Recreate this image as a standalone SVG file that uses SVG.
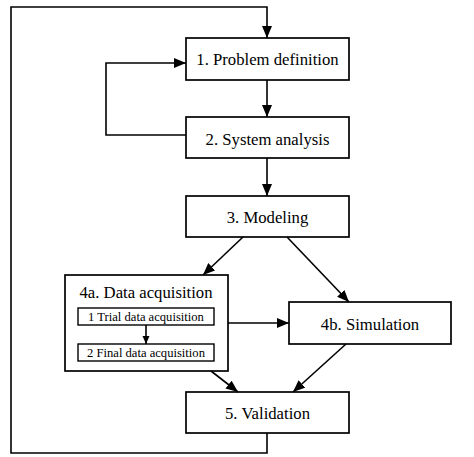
<svg xmlns="http://www.w3.org/2000/svg" width="474" height="457" viewBox="0 0 474 457">
<style>
.box{fill:#fff;stroke:#000;stroke-width:1.7}
.ibox{fill:#fff;stroke:#000;stroke-width:1.4}
text{font-family:"Liberation Serif","Times New Roman",serif;fill:#000;text-anchor:middle}
.t{font-size:16.7px}
.ts{font-size:12.6px}
.c{fill:none;stroke:#000;stroke-width:1.6}
</style>
<defs>
<marker id="ah" markerUnits="userSpaceOnUse" markerWidth="14" markerHeight="12" refX="12" refY="5" orient="auto" viewBox="0 0 14 12">
<polygon points="0,0 12,5 0,10" fill="#000"/>
</marker>
<marker id="ahs" markerUnits="userSpaceOnUse" markerWidth="10" markerHeight="8" refX="8" refY="3.5" orient="auto" viewBox="0 0 10 8">
<polygon points="0,0 8,3.5 0,7" fill="#000"/>
</marker>
</defs>
<g id="n1">
<rect class="box" x="186" y="38" width="163" height="42"/>
<text class="t" x="267.5" y="65">1. Problem definition</text>
</g>
<g id="n2">
<rect class="box" x="186" y="117" width="163" height="41"/>
<text class="t" x="267.5" y="145">2. System analysis</text>
</g>
<g id="n3">
<rect class="box" x="186" y="196" width="163" height="41"/>
<text class="t" x="267.5" y="223">3. Modeling</text>
</g>
<g id="n4a">
<rect class="box" x="65" y="275" width="163" height="96"/>
<text class="t" x="146" y="298">4a. Data acquisition</text>
<g id="n4a1">
<rect class="ibox" x="78" y="308" width="136" height="17"/>
<text class="ts" x="146" y="321">1 Trial data acquisition</text>
</g>
<g id="n4a2">
<rect class="ibox" x="78" y="344" width="136" height="17"/>
<text class="ts" x="146" y="357">2 Final data acquisition</text>
</g>
</g>
<g id="n4b">
<rect class="box" x="289" y="302" width="162" height="42"/>
<text class="t" x="370" y="330">4b. Simulation</text>
</g>
<g id="n5">
<rect class="box" x="186" y="392" width="163" height="41"/>
<text class="t" x="267.5" y="419">5. Validation</text>
</g>
<g id="connectors">
<path class="c" d="M267,433 V453 H11 V7 H267 V38" marker-end="url(#ah)"/>
<path class="c" d="M186,135 H106 V63 H186" marker-end="url(#ah)"/>
<path class="c" d="M267,80 V117" marker-end="url(#ah)"/>
<path class="c" d="M267,158 V196" marker-end="url(#ah)"/>
<path class="c" d="M243,237 L203,275" marker-end="url(#ah)"/>
<path class="c" d="M287,237 L349,302" marker-end="url(#ah)"/>
<path class="c" d="M228,323 H289" marker-end="url(#ah)"/>
<path class="c" d="M211,371 L238,392" marker-end="url(#ah)"/>
<path class="c" d="M346,344 L293,392" marker-end="url(#ah)"/>
<path class="c" d="M146,325 V344" stroke-width="1.3" marker-end="url(#ahs)"/>
</g>
</svg>
